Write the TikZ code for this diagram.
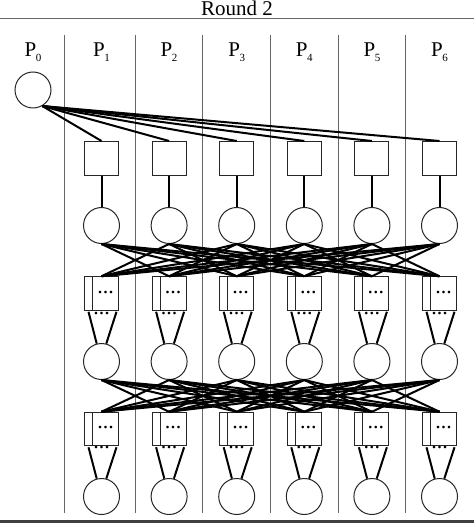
\documentclass[tikz,border=0pt]{standalone}
\usepackage{fontspec}
\setmainfont{Liberation Serif}
\usetikzlibrary{positioning}

\newcommand\procname[1]{P\kern-0.2pt\raisebox{-2.2pt}{\fontsize{5.5}{5.5}\selectfont #1}}

\begin{document}
\begin{tikzpicture}[x=0.5pt, y=-0.5pt,
    every node/.style = {font=\fontsize{10.5}{12}\selectfont},
    proc/.style = {draw=black!85, line width=0.5pt, circle, minimum size=18pt, inner sep=0pt},
    sq/.style = {draw=black!85, line width=0.5pt, minimum width=17pt, minimum height=17pt, inner sep=0pt},
    buf/.style = {draw=black!85, line width=0.5pt, minimum width=17pt, minimum height=16.75pt, inner sep=0pt},
    dots/.style = {inner sep=0pt, font=\fontsize{11}{12}\selectfont},
    link/.style = {line width=1pt},
    sep/.style = {draw=black!60, line width=0.5pt}
]
\useasboundingbox (0,0) rectangle (474,523);

% frame
\node (title) at (237,8) {Round 2};
\coordinate (tl) at (0,19);
\coordinate (tr) at (474,19);
\coordinate (bl) at (0,521.5);
\coordinate (br) at (474,521.5);
\draw[sep] (tl) -- (tr);
\draw[draw=black!75, line width=1.5pt] (bl) -- (br);

% column separators
\foreach \s [count=\i] in {64,135.3,202.9,270.5,338.1,405.7} {
    \coordinate (st\i) at (\s,35);
    \coordinate (sb\i) at (\s,513);
    \draw[sep] (st\i) -- (sb\i);
}

% P0
\node (l0) [anchor=base] at (33,57) {\procname{0}};
\node (p0) [proc] at (33,90) {};

% P1 ... P6
\foreach \k in {1,...,6} {
    \pgfmathsetmacro\cx{101.5+67.6*(\k-1)}
    \node (l\k) [anchor=base] at (\cx,57) {\procname{\k}};
    \node (sq\k) [sq] at (\cx,158.5) {};
    \node (ca\k) [proc] at (\cx,225.5) {};
    \node (ba\k) [buf] at (\cx,293.5) {};
    \node (ia\k) [dots] at (\cx+4,292.5) {...};
    \node (ua\k) [dots] at (\cx,313.5) {...};
    \node (cb\k) [proc] at (\cx,361.5) {};
    \node (bb\k) [buf] at (\cx,429) {};
    \node (ib\k) [dots] at (\cx+4,428) {...};
    \node (ub\k) [dots] at (\cx,447.5) {...};
    \node (cc\k) [proc] at (\cx,496.5) {};

    \draw[draw=black!85, line width=0.5pt] ([xshift=4.25pt]ba\k.north west) -- ([xshift=4.25pt]ba\k.south west);
    \draw[draw=black!85, line width=0.5pt] ([xshift=4.25pt]bb\k.north west) -- ([xshift=4.25pt]bb\k.south west);

    \draw[link] (p0.-60) -- (sq\k.north);
    \draw[link] (sq\k) -- (ca\k);
    \draw[link] ([shift={(2.25pt,-0.5pt)}]ba\k.south west) -- (cb\k.105);
    \draw[link] ([shift={(-1.25pt,-0.5pt)}]ba\k.south east) -- (cb\k.75);
    \draw[link] ([shift={(2.25pt,-0.5pt)}]bb\k.south west) -- (cc\k.105);
    \draw[link] ([shift={(-1.25pt,-0.5pt)}]bb\k.south east) -- (cc\k.75);
}

% all-to-all exchange
\foreach \i in {1,...,6} {
    \foreach \j in {1,...,6} {
        \ifnum\i=\j\else
            \draw[link] (ca\i.south) -- (ba\j.north);
            \draw[link] (cb\i.south) -- (bb\j.north);
        \fi
    }
}
\end{tikzpicture}
\end{document}
